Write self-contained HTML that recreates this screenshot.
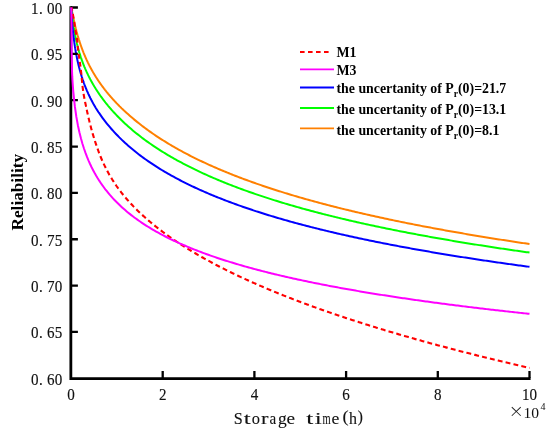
<!DOCTYPE html>
<html><head><meta charset="utf-8"><title>Reliability vs storage time</title><style>
html,body{margin:0;padding:0;background:#fff;width:550px;height:430px;overflow:hidden}
svg{display:block}
.tk{font-family:"Liberation Serif",serif;font-size:16.4px;fill:#111;stroke:#111;stroke-width:0.15px}
.lg{font-family:"Liberation Serif",serif;font-size:13.85px;font-weight:bold;fill:#000}
.ax{font-family:"Liberation Serif",serif;fill:#111}
.tt{font-family:"Liberation Serif",serif;font-size:17.6px;fill:#111;stroke:#111;stroke-width:0.1px}
</style></head><body>
<svg width="550" height="430" viewBox="0 0 550 430">
<rect width="550" height="430" fill="#fff"/>
<path d="M70.85,6.2 V378.6 H530.6" fill="none" stroke="#000" stroke-width="2.8" stroke-linejoin="miter"/>
<polyline points="71.20,7.40 71.28,7.80 71.36,8.21 71.44,8.61 71.52,9.02 71.61,9.42 71.69,9.82 71.77,10.23 71.85,10.63 71.93,11.03 72.01,11.44 72.10,11.84 72.18,12.25 72.26,12.65 72.34,13.05 72.43,13.46 72.51,13.86 72.59,14.27 72.68,14.67 72.76,15.07 72.85,15.48 72.93,15.88 73.02,16.28 73.10,16.69 73.19,17.09 73.27,17.50 73.36,17.90 73.45,18.30 73.53,18.71 73.62,19.11 73.71,19.52 73.80,19.92 73.89,20.32 73.98,20.73 74.07,21.13 74.16,21.54 74.25,21.94 74.34,22.34 74.44,22.75 74.53,23.15 74.62,23.55 74.72,23.96 74.81,24.36 74.91,24.77 75.00,25.17 75.10,25.57 75.20,25.98 75.29,26.38 75.39,26.79 75.49,27.19 75.59,27.59 75.69,28.00 75.79,28.40 75.90,28.80 76.00,29.21 76.10,29.61 76.21,30.02 76.31,30.42 76.42,30.82 76.52,31.23 76.63,31.63 76.74,32.04 76.85,32.44 76.96,32.84 77.07,33.25 77.18,33.65 77.29,34.05 77.40,34.46 77.52,34.86 77.63,35.27 77.75,35.67 77.86,36.07 77.98,36.48 78.10,36.88 78.22,37.29 78.34,37.69 78.46,38.09 78.58,38.50 78.70,38.90 78.83,39.31 78.95,39.71 79.08,40.11 79.21,40.52 79.33,40.92 79.46,41.32 79.59,41.73 79.72,42.13 79.86,42.54 79.99,42.94 80.12,43.34 80.26,43.75 80.39,44.15 80.53,44.56 80.67,44.96 80.81,45.36 80.95,45.77 81.09,46.17 81.24,46.57 81.38,46.98 81.52,47.38 81.67,47.79 81.82,48.19 81.97,48.59 82.12,49.00 82.27,49.40 82.42,49.81 82.57,50.21 82.73,50.61 82.89,51.02 83.04,51.42 83.20,51.82 83.36,52.23 83.52,52.63 83.68,53.04 83.85,53.44 84.01,53.84 84.18,54.25 84.35,54.65 84.52,55.06 84.69,55.46 84.86,55.86 85.03,56.27 85.21,56.67 85.38,57.07 85.56,57.48 85.74,57.88 85.92,58.29 86.10,58.69 86.28,59.09 86.46,59.50 86.65,59.90 86.84,60.31 87.03,60.71 87.22,61.11 87.41,61.52 87.60,61.92 87.79,62.33 87.99,62.73 88.19,63.13 88.39,63.54 88.59,63.94 88.79,64.34 88.99,64.75 89.20,65.15 89.40,65.56 89.61,65.96 89.82,66.36 90.03,66.77 90.24,67.17 90.46,67.58 90.67,67.98 90.89,68.38 91.11,68.79 91.33,69.19 91.55,69.59 91.78,70.00 92.00,70.40 92.23,70.81 92.46,71.21 92.69,71.61 92.92,72.02 93.16,72.42 93.39,72.83 93.63,73.23 93.87,73.63 94.11,74.04 94.35,74.44 94.60,74.84 94.85,75.25 95.09,75.65 95.34,76.06 95.59,76.46 95.85,76.86 96.10,77.27 96.36,77.67 96.62,78.08 96.88,78.48 97.14,78.88 97.41,79.29 97.67,79.69 97.94,80.09 98.21,80.50 98.48,80.90 98.75,81.31 99.03,81.71 99.31,82.11 99.59,82.52 99.87,82.92 100.15,83.33 100.43,83.73 100.72,84.13 101.01,84.54 101.30,84.94 101.59,85.35 101.89,85.75 102.18,86.15 102.48,86.56 102.78,86.96 103.08,87.36 103.39,87.77 103.70,88.17 104.00,88.58 104.31,88.98 104.63,89.38 104.94,89.79 105.26,90.19 105.58,90.60 105.90,91.00 106.22,91.40 106.54,91.81 106.87,92.21 107.20,92.61 107.53,93.02 107.87,93.42 108.20,93.83 108.54,94.23 108.88,94.63 109.22,95.04 109.56,95.44 109.91,95.85 110.26,96.25 110.61,96.65 110.96,97.06 111.31,97.46 111.67,97.86 112.03,98.27 112.39,98.67 112.76,99.08 113.12,99.48 113.49,99.88 113.86,100.29 114.23,100.69 114.61,101.10 114.98,101.50 115.36,101.90 115.74,102.31 116.13,102.71 116.51,103.12 116.90,103.52 117.29,103.92 117.69,104.33 118.08,104.73 118.48,105.13 118.88,105.54 119.28,105.94 119.68,106.35 120.09,106.75 120.50,107.15 120.91,107.56 121.33,107.96 121.74,108.37 122.16,108.77 122.58,109.17 123.01,109.58 123.43,109.98 123.86,110.38 124.29,110.79 124.73,111.19 125.16,111.60 125.60,112.00 126.69,112.98 128.22,114.36 129.75,115.71 131.27,117.04 132.80,118.34 134.32,119.62 135.85,120.88 137.38,122.12 138.90,123.34 140.43,124.54 141.95,125.72 143.48,126.88 145.00,128.02 146.53,129.15 148.06,130.25 149.58,131.35 151.11,132.42 152.63,133.48 154.16,134.53 155.68,135.56 157.21,136.58 158.74,137.58 160.26,138.57 161.79,139.55 163.31,140.51 164.84,141.46 166.36,142.40 167.89,143.33 169.42,144.25 170.94,145.16 172.47,146.05 173.99,146.93 175.52,147.81 177.05,148.67 178.57,149.52 180.10,150.37 181.62,151.20 183.15,152.03 184.67,152.84 186.20,153.65 187.73,154.45 189.25,155.24 190.78,156.02 192.30,156.79 193.83,157.56 195.35,158.32 196.88,159.07 198.41,159.81 199.93,160.55 201.46,161.27 202.98,161.99 204.51,162.71 206.04,163.41 207.56,164.12 209.09,164.81 210.61,165.50 212.14,166.18 213.66,166.85 215.19,167.52 216.72,168.18 218.24,168.84 219.77,169.49 221.29,170.14 222.82,170.77 224.34,171.41 225.87,172.04 227.40,172.66 228.92,173.28 230.45,173.89 231.97,174.50 233.50,175.10 235.02,175.70 236.55,176.29 238.08,176.88 239.60,177.46 241.13,178.04 242.65,178.62 244.18,179.19 245.71,179.75 247.23,180.31 248.76,180.87 250.28,181.42 251.81,181.97 253.33,182.51 254.86,183.05 256.39,183.59 257.91,184.12 259.44,184.65 260.96,185.18 262.49,185.70 264.01,186.21 265.54,186.73 267.07,187.24 268.59,187.74 270.12,188.25 271.64,188.75 273.17,189.24 274.70,189.73 276.22,190.22 277.75,190.71 279.27,191.19 280.80,191.67 282.32,192.15 283.85,192.62 285.38,193.09 286.90,193.56 288.43,194.02 289.95,194.48 291.48,194.94 293.00,195.39 294.53,195.85 296.06,196.30 297.58,196.74 299.11,197.19 300.63,197.63 302.16,198.07 303.68,198.50 305.21,198.93 306.74,199.36 308.26,199.79 309.79,200.22 311.31,200.64 312.84,201.06 314.37,201.48 315.89,201.89 317.42,202.31 318.94,202.72 320.47,203.12 321.99,203.53 323.52,203.93 325.05,204.33 326.57,204.73 328.10,205.13 329.62,205.52 331.15,205.92 332.67,206.31 334.20,206.70 335.73,207.08 337.25,207.46 338.78,207.85 340.30,208.23 341.83,208.60 343.36,208.98 344.88,209.35 346.41,209.72 347.93,210.09 349.46,210.46 350.98,210.83 352.51,211.19 354.04,211.55 355.56,211.91 357.09,212.27 358.61,212.63 360.14,212.98 361.66,213.34 363.19,213.69 364.72,214.04 366.24,214.38 367.77,214.73 369.29,215.07 370.82,215.42 372.34,215.76 373.87,216.10 375.40,216.43 376.92,216.77 378.45,217.10 379.97,217.44 381.50,217.77 383.03,218.10 384.55,218.42 386.08,218.75 387.60,219.08 389.13,219.40 390.65,219.72 392.18,220.04 393.71,220.36 395.23,220.68 396.76,220.99 398.28,221.31 399.81,221.62 401.33,221.93 402.86,222.24 404.39,222.55 405.91,222.86 407.44,223.16 408.96,223.47 410.49,223.77 412.02,224.08 413.54,224.38 415.07,224.68 416.59,224.97 418.12,225.27 419.64,225.57 421.17,225.86 422.70,226.15 424.22,226.44 425.75,226.74 427.27,227.02 428.80,227.31 430.32,227.60 431.85,227.89 433.38,228.17 434.90,228.45 436.43,228.74 437.95,229.02 439.48,229.30 441.00,229.57 442.53,229.85 444.06,230.13 445.58,230.40 447.11,230.68 448.63,230.95 450.16,231.22 451.69,231.49 453.21,231.76 454.74,232.03 456.26,232.30 457.79,232.57 459.31,232.83 460.84,233.10 462.37,233.36 463.89,233.62 465.42,233.88 466.94,234.15 468.47,234.40 469.99,234.66 471.52,234.92 473.05,235.18 474.57,235.43 476.10,235.69 477.62,235.94 479.15,236.19 480.68,236.45 482.20,236.70 483.73,236.95 485.25,237.19 486.78,237.44 488.30,237.69 489.83,237.94 491.36,238.18 492.88,238.43 494.41,238.67 495.93,238.91 497.46,239.15 498.98,239.39 500.51,239.63 502.04,239.87 503.56,240.11 505.09,240.35 506.61,240.59 508.14,240.82 509.66,241.06 511.19,241.29 512.72,241.52 514.24,241.76 515.77,241.99 517.29,242.22 518.82,242.45 520.35,242.68 521.87,242.91 523.40,243.13 524.92,243.36 526.45,243.59 527.97,243.81 529.50,244.04" fill="none" stroke="#ff8000" stroke-width="2.0" stroke-linejoin="round"/>
<polyline points="71.20,7.40 71.24,7.80 71.29,8.21 71.33,8.61 71.38,9.02 71.43,9.42 71.47,9.82 71.52,10.23 71.56,10.63 71.61,11.03 71.65,11.44 71.70,11.84 71.75,12.25 71.79,12.65 71.84,13.05 71.89,13.46 71.93,13.86 71.98,14.27 72.03,14.67 72.08,15.07 72.13,15.48 72.18,15.88 72.23,16.28 72.28,16.69 72.33,17.09 72.38,17.50 72.43,17.90 72.48,18.30 72.53,18.71 72.58,19.11 72.63,19.52 72.69,19.92 72.74,20.32 72.80,20.73 72.85,21.13 72.91,21.54 72.96,21.94 73.02,22.34 73.07,22.75 73.13,23.15 73.19,23.55 73.25,23.96 73.31,24.36 73.37,24.77 73.43,25.17 73.49,25.57 73.55,25.98 73.61,26.38 73.67,26.79 73.73,27.19 73.80,27.59 73.86,28.00 73.93,28.40 73.99,28.80 74.06,29.21 74.13,29.61 74.20,30.02 74.26,30.42 74.33,30.82 74.40,31.23 74.47,31.63 74.55,32.04 74.62,32.44 74.69,32.84 74.76,33.25 74.84,33.65 74.91,34.05 74.99,34.46 75.07,34.86 75.15,35.27 75.22,35.67 75.30,36.07 75.38,36.48 75.47,36.88 75.55,37.29 75.63,37.69 75.71,38.09 75.80,38.50 75.88,38.90 75.97,39.31 76.06,39.71 76.15,40.11 76.24,40.52 76.33,40.92 76.42,41.32 76.51,41.73 76.60,42.13 76.70,42.54 76.79,42.94 76.89,43.34 76.98,43.75 77.08,44.15 77.18,44.56 77.28,44.96 77.38,45.36 77.48,45.77 77.59,46.17 77.69,46.57 77.80,46.98 77.90,47.38 78.01,47.79 78.12,48.19 78.23,48.59 78.34,49.00 78.45,49.40 78.56,49.81 78.68,50.21 78.79,50.61 78.91,51.02 79.02,51.42 79.14,51.82 79.26,52.23 79.38,52.63 79.50,53.04 79.63,53.44 79.75,53.84 79.88,54.25 80.00,54.65 80.13,55.06 80.26,55.46 80.39,55.86 80.52,56.27 80.66,56.67 80.79,57.07 80.92,57.48 81.06,57.88 81.20,58.29 81.34,58.69 81.48,59.09 81.62,59.50 81.76,59.90 81.91,60.31 82.05,60.71 82.20,61.11 82.35,61.52 82.50,61.92 82.65,62.33 82.80,62.73 82.95,63.13 83.11,63.54 83.26,63.94 83.42,64.34 83.58,64.75 83.74,65.15 83.90,65.56 84.06,65.96 84.23,66.36 84.39,66.77 84.56,67.17 84.73,67.58 84.90,67.98 85.07,68.38 85.24,68.79 85.42,69.19 85.60,69.59 85.77,70.00 85.95,70.40 86.13,70.81 86.31,71.21 86.50,71.61 86.68,72.02 86.87,72.42 87.06,72.83 87.25,73.23 87.44,73.63 87.63,74.04 87.82,74.44 88.02,74.84 88.21,75.25 88.41,75.65 88.61,76.06 88.82,76.46 89.02,76.86 89.22,77.27 89.43,77.67 89.64,78.08 89.85,78.48 90.06,78.88 90.27,79.29 90.49,79.69 90.70,80.09 90.92,80.50 91.14,80.90 91.36,81.31 91.58,81.71 91.81,82.11 92.04,82.52 92.26,82.92 92.49,83.33 92.72,83.73 92.96,84.13 93.19,84.54 93.43,84.94 93.67,85.35 93.91,85.75 94.15,86.15 94.39,86.56 94.64,86.96 94.88,87.36 95.13,87.77 95.38,88.17 95.63,88.58 95.89,88.98 96.14,89.38 96.40,89.79 96.66,90.19 96.92,90.60 97.18,91.00 97.45,91.40 97.72,91.81 97.98,92.21 98.25,92.61 98.53,93.02 98.80,93.42 99.08,93.83 99.35,94.23 99.63,94.63 99.91,95.04 100.20,95.44 100.48,95.85 100.77,96.25 101.06,96.65 101.35,97.06 101.64,97.46 101.94,97.86 102.24,98.27 102.53,98.67 102.84,99.08 103.14,99.48 103.44,99.88 103.75,100.29 104.06,100.69 104.37,101.10 104.68,101.50 105.00,101.90 105.31,102.31 105.63,102.71 105.95,103.12 106.28,103.52 106.60,103.92 106.93,104.33 107.26,104.73 107.59,105.13 107.92,105.54 108.26,105.94 108.59,106.35 108.93,106.75 109.28,107.15 109.62,107.56 109.96,107.96 110.31,108.37 110.66,108.77 111.02,109.17 111.37,109.58 111.73,109.98 112.09,110.38 112.45,110.79 112.81,111.19 113.17,111.60 113.54,112.00 114.49,113.02 116.01,114.65 117.54,116.24 119.07,117.79 120.59,119.31 122.12,120.80 123.64,122.25 125.17,123.68 126.69,125.07 128.22,126.44 129.75,127.78 131.27,129.10 132.80,130.39 134.32,131.66 135.85,132.91 137.38,134.13 138.90,135.34 140.43,136.52 141.95,137.69 143.48,138.83 145.00,139.96 146.53,141.07 148.06,142.16 149.58,143.24 151.11,144.30 152.63,145.34 154.16,146.37 155.68,147.39 157.21,148.39 158.74,149.37 160.26,150.35 161.79,151.31 163.31,152.25 164.84,153.19 166.36,154.11 167.89,155.02 169.42,155.92 170.94,156.81 172.47,157.69 173.99,158.56 175.52,159.41 177.05,160.26 178.57,161.10 180.10,161.92 181.62,162.74 183.15,163.55 184.67,164.35 186.20,165.14 187.73,165.92 189.25,166.69 190.78,167.46 192.30,168.22 193.83,168.96 195.35,169.71 196.88,170.44 198.41,171.17 199.93,171.88 201.46,172.60 202.98,173.30 204.51,174.00 206.04,174.69 207.56,175.37 209.09,176.05 210.61,176.72 212.14,177.39 213.66,178.05 215.19,178.70 216.72,179.34 218.24,179.99 219.77,180.62 221.29,181.25 222.82,181.87 224.34,182.49 225.87,183.11 227.40,183.71 228.92,184.32 230.45,184.91 231.97,185.51 233.50,186.09 235.02,186.68 236.55,187.25 238.08,187.83 239.60,188.39 241.13,188.96 242.65,189.52 244.18,190.07 245.71,190.62 247.23,191.17 248.76,191.71 250.28,192.25 251.81,192.78 253.33,193.31 254.86,193.84 256.39,194.36 257.91,194.88 259.44,195.39 260.96,195.90 262.49,196.41 264.01,196.91 265.54,197.41 267.07,197.91 268.59,198.40 270.12,198.89 271.64,199.37 273.17,199.85 274.70,200.33 276.22,200.81 277.75,201.28 279.27,201.75 280.80,202.21 282.32,202.68 283.85,203.14 285.38,203.59 286.90,204.04 288.43,204.49 289.95,204.94 291.48,205.39 293.00,205.83 294.53,206.27 296.06,206.70 297.58,207.14 299.11,207.57 300.63,207.99 302.16,208.42 303.68,208.84 305.21,209.26 306.74,209.68 308.26,210.09 309.79,210.50 311.31,210.91 312.84,211.32 314.37,211.72 315.89,212.13 317.42,212.53 318.94,212.92 320.47,213.32 321.99,213.71 323.52,214.10 325.05,214.49 326.57,214.88 328.10,215.26 329.62,215.64 331.15,216.02 332.67,216.40 334.20,216.77 335.73,217.15 337.25,217.52 338.78,217.89 340.30,218.25 341.83,218.62 343.36,218.98 344.88,219.34 346.41,219.70 347.93,220.06 349.46,220.41 350.98,220.77 352.51,221.12 354.04,221.47 355.56,221.81 357.09,222.16 358.61,222.50 360.14,222.85 361.66,223.19 363.19,223.52 364.72,223.86 366.24,224.20 367.77,224.53 369.29,224.86 370.82,225.19 372.34,225.52 373.87,225.85 375.40,226.17 376.92,226.50 378.45,226.82 379.97,227.14 381.50,227.46 383.03,227.77 384.55,228.09 386.08,228.40 387.60,228.72 389.13,229.03 390.65,229.34 392.18,229.64 393.71,229.95 395.23,230.26 396.76,230.56 398.28,230.86 399.81,231.16 401.33,231.46 402.86,231.76 404.39,232.06 405.91,232.35 407.44,232.65 408.96,232.94 410.49,233.23 412.02,233.52 413.54,233.81 415.07,234.10 416.59,234.38 418.12,234.67 419.64,234.95 421.17,235.23 422.70,235.52 424.22,235.79 425.75,236.07 427.27,236.35 428.80,236.63 430.32,236.90 431.85,237.18 433.38,237.45 434.90,237.72 436.43,237.99 437.95,238.26 439.48,238.53 441.00,238.79 442.53,239.06 444.06,239.32 445.58,239.59 447.11,239.85 448.63,240.11 450.16,240.37 451.69,240.63 453.21,240.89 454.74,241.14 456.26,241.40 457.79,241.66 459.31,241.91 460.84,242.16 462.37,242.41 463.89,242.66 465.42,242.91 466.94,243.16 468.47,243.41 469.99,243.66 471.52,243.90 473.05,244.15 474.57,244.39 476.10,244.63 477.62,244.88 479.15,245.12 480.68,245.36 482.20,245.60 483.73,245.83 485.25,246.07 486.78,246.31 488.30,246.54 489.83,246.78 491.36,247.01 492.88,247.24 494.41,247.48 495.93,247.71 497.46,247.94 498.98,248.17 500.51,248.39 502.04,248.62 503.56,248.85 505.09,249.07 506.61,249.30 508.14,249.52 509.66,249.75 511.19,249.97 512.72,250.19 514.24,250.41 515.77,250.63 517.29,250.85 518.82,251.07 520.35,251.29 521.87,251.50 523.40,251.72 524.92,251.94 526.45,252.15 527.97,252.36 529.50,252.58" fill="none" stroke="#00ff00" stroke-width="2.0" stroke-linejoin="round"/>
<polyline points="71.20,7.40 71.22,7.80 71.24,8.21 71.26,8.61 71.28,9.02 71.30,9.42 71.32,9.82 71.34,10.23 71.36,10.63 71.39,11.03 71.41,11.44 71.43,11.84 71.45,12.25 71.48,12.65 71.50,13.05 71.53,13.46 71.55,13.86 71.58,14.27 71.60,14.67 71.63,15.07 71.65,15.48 71.68,15.88 71.71,16.28 71.73,16.69 71.76,17.09 71.79,17.50 71.82,17.90 71.84,18.30 71.87,18.71 71.90,19.11 71.93,19.52 71.96,19.92 71.99,20.32 72.02,20.73 72.05,21.13 72.09,21.54 72.12,21.94 72.15,22.34 72.18,22.75 72.22,23.15 72.25,23.55 72.28,23.96 72.32,24.36 72.35,24.77 72.39,25.17 72.42,25.57 72.46,25.98 72.50,26.38 72.53,26.79 72.57,27.19 72.61,27.59 72.64,28.00 72.68,28.40 72.72,28.80 72.76,29.21 72.80,29.61 72.84,30.02 72.88,30.42 72.92,30.82 72.96,31.23 73.01,31.63 73.05,32.04 73.09,32.44 73.14,32.84 73.18,33.25 73.22,33.65 73.27,34.05 73.31,34.46 73.36,34.86 73.41,35.27 73.45,35.67 73.50,36.07 73.55,36.48 73.60,36.88 73.64,37.29 73.69,37.69 73.74,38.09 73.79,38.50 73.85,38.90 73.90,39.31 73.95,39.71 74.00,40.11 74.05,40.52 74.11,40.92 74.16,41.32 74.22,41.73 74.27,42.13 74.33,42.54 74.38,42.94 74.44,43.34 74.50,43.75 74.56,44.15 74.62,44.56 74.68,44.96 74.74,45.36 74.80,45.77 74.86,46.17 74.92,46.57 74.98,46.98 75.05,47.38 75.11,47.79 75.17,48.19 75.24,48.59 75.31,49.00 75.37,49.40 75.44,49.81 75.51,50.21 75.58,50.61 75.64,51.02 75.71,51.42 75.79,51.82 75.86,52.23 75.93,52.63 76.00,53.04 76.07,53.44 76.15,53.84 76.22,54.25 76.30,54.65 76.38,55.06 76.45,55.46 76.53,55.86 76.61,56.27 76.69,56.67 76.77,57.07 76.85,57.48 76.93,57.88 77.02,58.29 77.10,58.69 77.18,59.09 77.27,59.50 77.35,59.90 77.44,60.31 77.53,60.71 77.62,61.11 77.71,61.52 77.80,61.92 77.89,62.33 77.98,62.73 78.07,63.13 78.17,63.54 78.26,63.94 78.36,64.34 78.45,64.75 78.55,65.15 78.65,65.56 78.75,65.96 78.85,66.36 78.95,66.77 79.05,67.17 79.15,67.58 79.26,67.98 79.36,68.38 79.47,68.79 79.58,69.19 79.69,69.59 79.79,70.00 79.90,70.40 80.02,70.81 80.13,71.21 80.24,71.61 80.35,72.02 80.47,72.42 80.59,72.83 80.70,73.23 80.82,73.63 80.94,74.04 81.06,74.44 81.18,74.84 81.31,75.25 81.43,75.65 81.56,76.06 81.68,76.46 81.81,76.86 81.94,77.27 82.07,77.67 82.20,78.08 82.33,78.48 82.47,78.88 82.60,79.29 82.74,79.69 82.87,80.09 83.01,80.50 83.15,80.90 83.29,81.31 83.43,81.71 83.58,82.11 83.72,82.52 83.87,82.92 84.01,83.33 84.16,83.73 84.31,84.13 84.46,84.54 84.62,84.94 84.77,85.35 84.92,85.75 85.08,86.15 85.24,86.56 85.40,86.96 85.56,87.36 85.72,87.77 85.88,88.17 86.05,88.58 86.21,88.98 86.38,89.38 86.55,89.79 86.72,90.19 86.89,90.60 87.07,91.00 87.24,91.40 87.42,91.81 87.60,92.21 87.78,92.61 87.96,93.02 88.14,93.42 88.32,93.83 88.51,94.23 88.70,94.63 88.88,95.04 89.08,95.44 89.27,95.85 89.46,96.25 89.66,96.65 89.85,97.06 90.05,97.46 90.25,97.86 90.45,98.27 90.66,98.67 90.86,99.08 91.07,99.48 91.28,99.88 91.49,100.29 91.70,100.69 91.91,101.10 92.13,101.50 92.34,101.90 92.56,102.31 92.78,102.71 93.01,103.12 93.23,103.52 93.46,103.92 93.68,104.33 93.91,104.73 94.15,105.13 94.38,105.54 94.61,105.94 94.85,106.35 95.09,106.75 95.33,107.15 95.57,107.56 95.82,107.96 96.06,108.37 96.31,108.77 96.56,109.17 96.82,109.58 97.07,109.98 97.33,110.38 97.59,110.79 97.85,111.19 98.11,111.60 98.37,112.00 99.23,113.20 100.76,115.41 102.28,117.55 103.81,119.61 105.33,121.60 106.86,123.53 108.39,125.40 109.91,127.21 111.44,128.98 112.96,130.69 114.49,132.36 116.01,133.99 117.54,135.57 119.07,137.12 120.59,138.63 122.12,140.10 123.64,141.54 125.17,142.95 126.69,144.33 128.22,145.68 129.75,147.01 131.27,148.30 132.80,149.57 134.32,150.82 135.85,152.05 137.38,153.25 138.90,154.43 140.43,155.58 141.95,156.72 143.48,157.84 145.00,158.94 146.53,160.03 148.06,161.09 149.58,162.14 151.11,163.17 152.63,164.19 154.16,165.19 155.68,166.17 157.21,167.15 158.74,168.10 160.26,169.05 161.79,169.98 163.31,170.90 164.84,171.80 166.36,172.69 167.89,173.58 169.42,174.45 170.94,175.30 172.47,176.15 173.99,176.99 175.52,177.82 177.05,178.63 178.57,179.44 180.10,180.24 181.62,181.02 183.15,181.80 184.67,182.57 186.20,183.33 187.73,184.09 189.25,184.83 190.78,185.57 192.30,186.29 193.83,187.01 195.35,187.73 196.88,188.43 198.41,189.13 199.93,189.82 201.46,190.50 202.98,191.18 204.51,191.85 206.04,192.51 207.56,193.16 209.09,193.81 210.61,194.46 212.14,195.09 213.66,195.73 215.19,196.35 216.72,196.97 218.24,197.58 219.77,198.19 221.29,198.80 222.82,199.39 224.34,199.98 225.87,200.57 227.40,201.15 228.92,201.73 230.45,202.30 231.97,202.87 233.50,203.43 235.02,203.99 236.55,204.54 238.08,205.09 239.60,205.63 241.13,206.17 242.65,206.70 244.18,207.23 245.71,207.76 247.23,208.28 248.76,208.80 250.28,209.31 251.81,209.82 253.33,210.33 254.86,210.83 256.39,211.33 257.91,211.82 259.44,212.31 260.96,212.80 262.49,213.28 264.01,213.76 265.54,214.24 267.07,214.71 268.59,215.18 270.12,215.65 271.64,216.11 273.17,216.57 274.70,217.03 276.22,217.48 277.75,217.93 279.27,218.38 280.80,218.82 282.32,219.26 283.85,219.70 285.38,220.13 286.90,220.57 288.43,221.00 289.95,221.42 291.48,221.85 293.00,222.27 294.53,222.68 296.06,223.10 297.58,223.51 299.11,223.92 300.63,224.33 302.16,224.74 303.68,225.14 305.21,225.54 306.74,225.93 308.26,226.33 309.79,226.72 311.31,227.11 312.84,227.50 314.37,227.89 315.89,228.27 317.42,228.65 318.94,229.03 320.47,229.41 321.99,229.78 323.52,230.15 325.05,230.52 326.57,230.89 328.10,231.25 329.62,231.62 331.15,231.98 332.67,232.34 334.20,232.70 335.73,233.05 337.25,233.41 338.78,233.76 340.30,234.11 341.83,234.45 343.36,234.80 344.88,235.14 346.41,235.49 347.93,235.83 349.46,236.16 350.98,236.50 352.51,236.83 354.04,237.17 355.56,237.50 357.09,237.83 358.61,238.16 360.14,238.48 361.66,238.81 363.19,239.13 364.72,239.45 366.24,239.77 367.77,240.09 369.29,240.40 370.82,240.72 372.34,241.03 373.87,241.34 375.40,241.65 376.92,241.96 378.45,242.27 379.97,242.57 381.50,242.87 383.03,243.18 384.55,243.48 386.08,243.78 387.60,244.07 389.13,244.37 390.65,244.67 392.18,244.96 393.71,245.25 395.23,245.54 396.76,245.83 398.28,246.12 399.81,246.41 401.33,246.69 402.86,246.98 404.39,247.26 405.91,247.54 407.44,247.82 408.96,248.10 410.49,248.38 412.02,248.65 413.54,248.93 415.07,249.20 416.59,249.48 418.12,249.75 419.64,250.02 421.17,250.29 422.70,250.55 424.22,250.82 425.75,251.09 427.27,251.35 428.80,251.61 430.32,251.88 431.85,252.14 433.38,252.40 434.90,252.66 436.43,252.91 437.95,253.17 439.48,253.42 441.00,253.68 442.53,253.93 444.06,254.18 445.58,254.44 447.11,254.69 448.63,254.93 450.16,255.18 451.69,255.43 453.21,255.68 454.74,255.92 456.26,256.16 457.79,256.41 459.31,256.65 460.84,256.89 462.37,257.13 463.89,257.37 465.42,257.61 466.94,257.85 468.47,258.08 469.99,258.32 471.52,258.55 473.05,258.78 474.57,259.02 476.10,259.25 477.62,259.48 479.15,259.71 480.68,259.94 482.20,260.17 483.73,260.39 485.25,260.62 486.78,260.84 488.30,261.07 489.83,261.29 491.36,261.52 492.88,261.74 494.41,261.96 495.93,262.18 497.46,262.40 498.98,262.62 500.51,262.84 502.04,263.05 503.56,263.27 505.09,263.48 506.61,263.70 508.14,263.91 509.66,264.13 511.19,264.34 512.72,264.55 514.24,264.76 515.77,264.97 517.29,265.18 518.82,265.39 520.35,265.60 521.87,265.80 523.40,266.01 524.92,266.21 526.45,266.42 527.97,266.62 529.50,266.83" fill="none" stroke="#0000ff" stroke-width="2.0" stroke-linejoin="round"/>
<path d="M70.85,7.50 H77.9 M70.85,53.85 H77.9 M70.85,100.20 H77.9 M70.85,146.55 H77.9 M70.85,192.90 H77.9 M70.85,239.25 H77.9 M70.85,285.60 H77.9 M70.85,331.95 H77.9 M162.70,378 V371.1 M254.40,378 V371.1 M346.10,378 V371.1 M437.80,378 V371.1 M529.50,378 V371.1" fill="none" stroke="#000" stroke-width="2.3"/>
<polyline points="71.50,7.40 71.72,8.45 71.94,9.51 72.16,10.56 72.37,11.62 72.58,12.68 72.78,13.73 72.98,14.79 73.17,15.85 73.37,16.91 73.55,17.97 73.74,19.03 73.92,20.09 74.09,21.15 74.25,22.22 74.41,23.28 74.57,24.35 74.72,25.41 74.87,26.48 75.03,27.54 75.18,28.61 75.35,29.67 75.52,30.74 75.70,31.80 75.90,32.86 76.09,33.92 76.29,34.98 76.48,36.04 76.67,37.10 76.84,38.16 77.00,39.22 77.14,40.29 77.26,41.36 77.37,42.43 77.47,43.50 77.56,44.57 77.66,45.65 77.76,46.72 77.88,47.79 78.00,48.86 78.13,49.93 78.26,50.99 78.40,52.06 78.54,53.13 78.69,54.19 78.84,55.26 78.99,56.33 79.15,57.39 79.30,58.46 79.46,59.52 79.62,60.59 79.77,61.65 79.93,62.72 80.08,63.79 80.23,64.85 80.38,65.92 80.52,66.99 80.66,68.05 80.79,69.12 80.92,70.19 81.04,71.26 81.16,72.33 81.27,73.40 81.38,74.47 81.49,75.55 81.59,76.62 81.69,77.69 81.79,78.76 81.89,79.84 81.99,80.91 82.10,81.98 82.20,83.05 82.31,84.12 82.42,85.20 82.54,86.26 82.66,87.33 82.79,88.40 82.93,89.47 83.07,90.53 83.23,91.59 83.39,92.66 83.56,93.72 83.74,94.78 83.92,95.84 84.11,96.90 84.31,97.96 84.51,99.02 84.72,100.07 84.93,101.13 85.15,102.19 85.36,103.24 85.59,104.30 85.81,105.35 86.03,106.41 86.26,107.46 86.48,108.51 86.71,109.57 86.93,110.62 87.16,111.67 87.39,112.72 87.62,113.77 87.86,114.82 88.10,115.88 88.34,116.93 88.58,117.98 88.83,119.02 89.08,120.07 89.33,121.12 89.59,122.17 89.85,123.21 90.12,124.26 90.39,125.30 90.66,126.34 90.93,127.38 91.21,128.42 91.50,129.45 91.79,130.49 92.08,131.52 92.37,132.56 92.67,133.59 92.98,134.62 93.29,135.66 93.60,136.69 93.91,137.72 94.23,138.75 94.56,139.78 94.88,140.81 95.22,141.84 95.55,142.86 95.89,143.88 96.24,144.91 96.58,145.93 96.94,146.95 97.29,147.96 97.66,148.98 98.02,149.99 98.39,151.00 98.77,152.01 99.14,153.01 99.53,154.02 99.92,155.02 100.31,156.01 100.71,157.01 101.12,158.00 101.54,158.99 101.97,159.98 102.40,160.97 102.85,161.95 103.30,162.94 103.75,163.92 104.22,164.89 104.68,165.86 105.16,166.83 105.64,167.80 106.13,168.76 106.62,169.71 107.11,170.67 107.61,171.61 108.13,172.56 108.65,173.50 109.18,174.44 109.72,175.37 110.26,176.30 110.82,177.22 111.38,178.15 111.95,179.06 112.52,179.98 113.10,180.89 113.69,181.79 114.27,182.69 114.87,183.59 115.47,184.48 116.08,185.36 116.69,186.25 117.32,187.12 117.95,188.00 118.59,188.87 119.23,189.73 119.88,190.59 120.53,191.45 121.19,192.30 121.85,193.15 122.52,193.99 123.19,194.83 123.87,195.67 124.56,196.49 125.25,197.32 125.95,198.14 126.66,198.96 127.36,199.77 128.08,200.58 128.79,201.38 129.51,202.18 130.24,202.98 130.97,203.77 131.70,204.55 132.44,205.34 133.19,206.11 133.94,206.89 134.69,207.66 135.45,208.42 136.21,209.18 136.97,209.94 137.74,210.70 138.51,211.45 139.29,212.19 140.07,212.93 140.86,213.67 141.64,214.40 142.44,215.13 143.23,215.86 144.03,216.58 144.83,217.30 145.63,218.02 146.44,218.73 147.25,219.44 148.07,220.14 148.89,220.84 149.71,221.54 150.53,222.23 151.36,222.92 152.19,223.60 153.02,224.29 153.86,224.97 154.69,225.64 155.54,226.31 156.38,226.98 157.23,227.65 158.07,228.31 158.92,228.97 159.78,229.63 160.63,230.28 161.49,230.93 162.36,231.57 163.22,232.22 164.08,232.86 164.95,233.49 165.82,234.13 166.69,234.76 167.57,235.39 168.45,236.01 169.33,236.63 170.21,237.25 171.09,237.87 171.97,238.48 172.86,239.09 173.75,239.70 174.64,240.30 175.53,240.90 176.43,241.50 177.32,242.10 178.22,242.69 179.12,243.28 180.02,243.87 180.93,244.46 181.83,245.04 182.74,245.62 183.65,246.20 184.56,246.78 185.47,247.35 186.38,247.92 187.30,248.49 188.21,249.05 189.13,249.62 190.05,250.18 190.97,250.73 191.89,251.29 192.81,251.84 193.74,252.40 194.67,252.94 195.59,253.49 196.52,254.03 197.45,254.58 198.38,255.12 199.32,255.65 200.25,256.19 201.19,256.72 202.12,257.25 203.06,257.78 204.00,258.31 204.94,258.83 205.88,259.36 206.82,259.88 207.77,260.39 208.71,260.91 209.66,261.43 210.60,261.94 211.55,262.45 212.50,262.96 213.45,263.46 214.40,263.97 215.35,264.47 216.31,264.97 217.26,265.47 218.22,265.96 219.17,266.46 220.13,266.95 221.09,267.44 222.05,267.93 223.01,268.42 223.97,268.91 224.93,269.39 225.89,269.87 226.85,270.35 227.82,270.83 228.78,271.31 229.75,271.78 230.72,272.26 231.69,272.73 232.65,273.20 233.62,273.67 234.59,274.13 235.56,274.60 236.54,275.06 237.51,275.52 238.48,275.98 239.46,276.44 240.43,276.90 241.41,277.35 242.38,277.81 243.36,278.26 244.34,278.71 245.31,279.16 246.29,279.61 247.27,280.06 248.25,280.50 249.23,280.94 250.22,281.38 251.20,281.83 252.18,282.26 253.17,282.70 254.15,283.14 255.14,283.57 256.12,284.01 257.11,284.44 258.09,284.87 259.08,285.30 260.07,285.72 261.06,286.15 262.05,286.58 263.04,287.00 264.03,287.42 265.02,287.84 266.01,288.26 267.00,288.68 267.99,289.10 268.99,289.51 269.98,289.93 270.97,290.34 271.97,290.75 272.96,291.16 273.96,291.57 274.96,291.98 275.95,292.39 276.95,292.79 277.95,293.20 278.95,293.60 279.94,294.00 280.94,294.40 281.94,294.80 282.94,295.20 283.94,295.60 284.95,295.99 285.95,296.39 286.95,296.78 287.95,297.18 288.95,297.57 289.96,297.96 290.96,298.35 291.97,298.73 292.97,299.12 293.97,299.51 294.98,299.89 295.99,300.28 296.99,300.66 298.00,301.04 299.01,301.42 300.01,301.80 301.02,302.18 302.03,302.56 303.04,302.93 304.05,303.31 305.06,303.68 306.07,304.06 307.08,304.43 308.09,304.80 309.10,305.17 310.11,305.54 311.12,305.91 312.13,306.28 313.14,306.64 314.16,307.01 315.17,307.37 316.18,307.73 317.20,308.10 318.21,308.46 319.23,308.82 320.24,309.18 321.26,309.54 322.27,309.90 323.29,310.25 324.30,310.61 325.32,310.96 326.34,311.32 327.35,311.67 328.37,312.02 329.39,312.38 330.40,312.73 331.42,313.08 332.44,313.42 333.46,313.77 334.48,314.12 335.50,314.47 336.52,314.81 337.54,315.16 338.56,315.50 339.58,315.84 340.60,316.18 341.62,316.53 342.64,316.87 343.66,317.21 344.69,317.54 345.71,317.88 346.73,318.22 347.75,318.56 348.78,318.89 349.80,319.23 350.82,319.56 351.85,319.89 352.87,320.22 353.89,320.56 354.92,320.89 355.94,321.22 356.97,321.55 357.99,321.87 359.02,322.20 360.05,322.53 361.07,322.86 362.10,323.18 363.12,323.51 364.15,323.83 365.18,324.15 366.20,324.48 367.23,324.80 368.26,325.12 369.29,325.44 370.32,325.76 371.34,326.08 372.37,326.39 373.40,326.71 374.43,327.03 375.46,327.35 376.49,327.66 377.52,327.98 378.55,328.29 379.58,328.60 380.61,328.92 381.64,329.23 382.67,329.54 383.70,329.85 384.73,330.16 385.76,330.47 386.79,330.78 387.82,331.08 388.86,331.39 389.89,331.70 390.92,332.00 391.95,332.31 392.99,332.61 394.02,332.92 395.05,333.22 396.08,333.52 397.12,333.83 398.15,334.13 399.18,334.43 400.22,334.73 401.25,335.03 402.29,335.33 403.32,335.63 404.36,335.92 405.39,336.22 406.42,336.52 407.46,336.81 408.50,337.11 409.53,337.40 410.57,337.70 411.60,337.99 412.64,338.28 413.67,338.58 414.71,338.87 415.75,339.16 416.78,339.45 417.82,339.74 418.86,340.03 419.89,340.32 420.93,340.61 421.97,340.90 423.01,341.18 424.04,341.47 425.08,341.76 426.12,342.04 427.16,342.33 428.20,342.61 429.23,342.89 430.27,343.18 431.31,343.46 432.35,343.74 433.39,344.03 434.43,344.31 435.47,344.59 436.51,344.87 437.55,345.15 438.59,345.43 439.63,345.70 440.67,345.98 441.71,346.26 442.75,346.54 443.79,346.81 444.83,347.09 445.87,347.37 446.91,347.64 447.95,347.91 448.99,348.19 450.03,348.46 451.07,348.74 452.12,349.01 453.16,349.28 454.20,349.55 455.24,349.82 456.28,350.09 457.33,350.36 458.37,350.63 459.41,350.90 460.45,351.17 461.50,351.44 462.54,351.71 463.58,351.97 464.62,352.24 465.67,352.51 466.71,352.77 467.75,353.04 468.80,353.30 469.84,353.57 470.88,353.83 471.93,354.09 472.97,354.36 474.02,354.62 475.06,354.88 476.10,355.14 477.15,355.40 478.19,355.66 479.24,355.92 480.28,356.18 481.33,356.44 482.37,356.70 483.42,356.96 484.46,357.22 485.51,357.48 486.55,357.73 487.60,357.99 488.64,358.25 489.69,358.50 490.74,358.76 491.78,359.01 492.83,359.27 493.87,359.52 494.92,359.78 495.97,360.03 497.01,360.28 498.06,360.53 499.11,360.79 500.15,361.04 501.20,361.29 502.25,361.54 503.29,361.79 504.34,362.04 505.39,362.29 506.44,362.54 507.48,362.79 508.53,363.04 509.58,363.28 510.63,363.53 511.67,363.78 512.72,364.03 513.77,364.27 514.82,364.52 515.87,364.76 516.91,365.01 517.96,365.25 519.01,365.50 520.06,365.74 521.11,365.99 522.16,366.23 523.21,366.47 524.25,366.71 525.30,366.96 526.35,367.20 527.40,367.44 528.45,367.68 529.50,367.92" fill="none" stroke="#ff0000" stroke-width="2.1" stroke-dasharray="4.9 3.175" stroke-dashoffset="1.4"/>
<polyline points="71.30,7.50 71.30,7.88 71.31,8.26 71.31,8.64 71.31,9.02 71.32,9.40 71.32,9.78 71.32,10.16 71.33,10.54 71.33,10.91 71.33,11.29 71.33,11.67 71.34,12.05 71.34,12.43 71.34,12.81 71.34,13.19 71.35,13.57 71.35,13.95 71.35,14.33 71.35,14.71 71.36,15.09 71.36,15.47 71.36,15.85 71.36,16.23 71.37,16.61 71.37,16.98 71.37,17.36 71.37,17.74 71.38,18.12 71.38,18.50 71.38,18.88 71.38,19.26 71.39,19.64 71.39,20.02 71.39,20.40 71.39,20.78 71.40,21.16 71.40,21.54 71.40,21.92 71.40,22.30 71.40,22.68 71.41,23.06 71.41,23.43 71.41,23.81 71.41,24.19 71.42,24.57 71.42,24.95 71.42,25.33 71.42,25.71 71.43,26.09 71.43,26.47 71.43,26.85 71.43,27.23 71.44,27.61 71.44,27.99 71.44,28.37 71.44,28.75 71.44,29.13 71.45,29.51 71.45,29.88 71.45,30.26 71.45,30.64 71.46,31.02 71.46,31.40 71.46,31.78 71.46,32.16 71.47,32.54 71.47,32.92 71.47,33.30 71.47,33.68 71.48,34.06 71.48,34.44 71.48,34.82 71.48,35.20 71.49,35.58 71.49,35.95 71.49,36.33 71.50,36.71 71.50,37.09 71.50,37.47 71.51,37.85 71.51,38.23 71.51,38.61 71.51,38.99 71.52,39.37 71.52,39.75 71.53,40.13 71.53,40.51 71.53,40.89 71.54,41.27 71.54,41.65 71.54,42.03 71.55,42.40 71.55,42.78 71.56,43.16 71.56,43.54 71.56,43.92 71.57,44.30 71.57,44.68 71.58,45.06 71.58,45.44 71.59,45.82 71.59,46.20 71.60,46.58 71.60,46.96 71.61,47.34 71.61,47.72 71.62,48.10 71.63,48.47 71.63,48.85 71.64,49.23 71.64,49.61 71.65,49.99 71.66,50.37 71.66,50.75 71.67,51.13 71.68,51.51 71.68,51.89 71.69,52.27 71.70,52.65 71.70,53.03 71.71,53.41 71.72,53.79 71.73,54.17 71.73,54.55 71.74,54.92 71.75,55.30 71.76,55.68 71.76,56.06 71.77,56.44 71.78,56.82 71.79,57.20 71.80,57.58 71.81,57.96 71.81,58.34 71.82,58.72 71.83,59.10 71.84,59.48 71.85,59.86 71.86,60.24 71.87,60.62 71.88,60.99 71.89,61.37 71.89,61.75 71.90,62.13 71.91,62.51 71.92,62.89 71.93,63.27 71.93,63.65 71.94,64.03 71.94,64.41 71.95,64.79 71.95,65.17 71.96,65.55 71.96,65.93 71.97,66.31 71.97,66.69 71.97,67.07 71.98,67.44 71.98,67.82 71.99,68.20 71.99,68.58 71.99,68.96 72.00,69.34 72.01,69.72 72.01,70.10 72.02,70.48 72.03,70.86 72.04,71.24 72.04,71.62 72.05,72.00 72.06,72.38 72.08,72.76 72.09,73.14 72.10,73.52 72.12,73.89 72.14,74.27 72.15,74.65 72.17,75.03 72.19,75.41 72.21,75.79 72.23,76.17 72.25,76.55 72.27,76.93 72.30,77.31 72.32,77.69 72.34,78.07 72.36,78.45 72.38,78.83 72.40,79.21 72.43,79.59 72.45,79.96 72.47,80.34 72.50,80.72 72.52,81.10 72.55,81.48 72.57,81.86 72.60,82.24 72.62,82.62 72.64,83.00 72.67,83.36 72.95,87.37 73.29,91.56 74.82,106.14 76.34,116.75 77.87,125.19 79.40,132.26 80.92,138.35 82.45,143.72 83.97,148.54 85.50,152.90 87.02,156.89 88.55,160.58 90.08,164.00 91.60,167.20 93.13,170.20 94.65,173.03 96.18,175.71 97.70,178.24 99.23,180.66 100.76,182.96 102.28,185.16 103.81,187.26 105.33,189.29 106.86,191.23 108.39,193.10 109.91,194.91 111.44,196.65 112.96,198.33 114.49,199.96 116.01,201.54 117.54,203.07 119.07,204.56 120.59,206.00 122.12,207.41 123.64,208.78 125.17,210.11 126.69,211.40 128.22,212.67 129.75,213.90 131.27,215.11 132.80,216.28 134.32,217.43 135.85,218.56 137.38,219.66 138.90,220.73 140.43,221.79 141.95,222.82 143.48,223.84 145.00,224.83 146.53,225.80 148.06,226.76 149.58,227.70 151.11,228.62 152.63,229.52 154.16,230.41 155.68,231.29 157.21,232.15 158.74,232.99 160.26,233.82 161.79,234.64 163.31,235.44 164.84,236.24 166.36,237.01 167.89,237.78 169.42,238.54 170.94,239.29 172.47,240.02 173.99,240.74 175.52,241.46 177.05,242.16 178.57,242.86 180.10,243.54 181.62,244.22 183.15,244.88 184.67,245.54 186.20,246.19 187.73,246.83 189.25,247.47 190.78,248.09 192.30,248.71 193.83,249.32 195.35,249.93 196.88,250.52 198.41,251.11 199.93,251.69 201.46,252.27 202.98,252.84 204.51,253.40 206.04,253.96 207.56,254.51 209.09,255.05 210.61,255.59 212.14,256.12 213.66,256.65 215.19,257.17 216.72,257.69 218.24,258.20 219.77,258.71 221.29,259.21 222.82,259.70 224.34,260.19 225.87,260.68 227.40,261.16 228.92,261.64 230.45,262.11 231.97,262.58 233.50,263.04 235.02,263.50 236.55,263.96 238.08,264.41 239.60,264.86 241.13,265.30 242.65,265.74 244.18,266.17 245.71,266.61 247.23,267.03 248.76,267.46 250.28,267.88 251.81,268.30 253.33,268.71 254.86,269.12 256.39,269.53 257.91,269.93 259.44,270.33 260.96,270.73 262.49,271.12 264.01,271.51 265.54,271.90 267.07,272.28 268.59,272.67 270.12,273.04 271.64,273.42 273.17,273.79 274.70,274.16 276.22,274.53 277.75,274.90 279.27,275.26 280.80,275.62 282.32,275.97 283.85,276.33 285.38,276.68 286.90,277.03 288.43,277.37 289.95,277.72 291.48,278.06 293.00,278.40 294.53,278.74 296.06,279.07 297.58,279.40 299.11,279.74 300.63,280.06 302.16,280.39 303.68,280.71 305.21,281.03 306.74,281.35 308.26,281.67 309.79,281.99 311.31,282.30 312.84,282.61 314.37,282.92 315.89,283.23 317.42,283.53 318.94,283.84 320.47,284.14 321.99,284.44 323.52,284.74 325.05,285.03 326.57,285.33 328.10,285.62 329.62,285.91 331.15,286.20 332.67,286.49 334.20,286.77 335.73,287.06 337.25,287.34 338.78,287.62 340.30,287.90 341.83,288.18 343.36,288.45 344.88,288.73 346.41,289.00 347.93,289.27 349.46,289.54 350.98,289.81 352.51,290.08 354.04,290.34 355.56,290.60 357.09,290.87 358.61,291.13 360.14,291.39 361.66,291.65 363.19,291.90 364.72,292.16 366.24,292.41 367.77,292.66 369.29,292.92 370.82,293.17 372.34,293.42 373.87,293.66 375.40,293.91 376.92,294.15 378.45,294.40 379.97,294.64 381.50,294.88 383.03,295.12 384.55,295.36 386.08,295.60 387.60,295.83 389.13,296.07 390.65,296.30 392.18,296.54 393.71,296.77 395.23,297.00 396.76,297.23 398.28,297.46 399.81,297.69 401.33,297.91 402.86,298.14 404.39,298.36 405.91,298.58 407.44,298.81 408.96,299.03 410.49,299.25 412.02,299.47 413.54,299.68 415.07,299.90 416.59,300.12 418.12,300.33 419.64,300.55 421.17,300.76 422.70,300.97 424.22,301.18 425.75,301.39 427.27,301.60 428.80,301.81 430.32,302.02 431.85,302.23 433.38,302.43 434.90,302.64 436.43,302.84 437.95,303.04 439.48,303.25 441.00,303.45 442.53,303.65 444.06,303.85 445.58,304.05 447.11,304.24 448.63,304.44 450.16,304.64 451.69,304.83 453.21,305.03 454.74,305.22 456.26,305.41 457.79,305.61 459.31,305.80 460.84,305.99 462.37,306.18 463.89,306.37 465.42,306.56 466.94,306.74 468.47,306.93 469.99,307.12 471.52,307.30 473.05,307.49 474.57,307.67 476.10,307.85 477.62,308.04 479.15,308.22 480.68,308.40 482.20,308.58 483.73,308.76 485.25,308.94 486.78,309.12 488.30,309.29 489.83,309.47 491.36,309.65 492.88,309.82 494.41,310.00 495.93,310.17 497.46,310.35 498.98,310.52 500.51,310.69 502.04,310.86 503.56,311.04 505.09,311.21 506.61,311.38 508.14,311.54 509.66,311.71 511.19,311.88 512.72,312.05 514.24,312.22 515.77,312.38 517.29,312.55 518.82,312.71 520.35,312.88 521.87,313.04 523.40,313.20 524.92,313.37 526.45,313.53 527.97,313.69 529.50,313.85" fill="none" stroke="#ff00ff" stroke-width="2.0" stroke-linejoin="round"/>
<text transform="translate(0,13.90) scale(0.92,1)" x="37.72 44.57 55.11 63.59" y="0" text-anchor="middle" class="tk">1.00</text>
<text transform="translate(0,60.25) scale(0.92,1)" x="37.72 44.57 55.11 63.59" y="0" text-anchor="middle" class="tk">0.95</text>
<text transform="translate(0,106.60) scale(0.92,1)" x="37.72 44.57 55.11 63.59" y="0" text-anchor="middle" class="tk">0.90</text>
<text transform="translate(0,152.95) scale(0.92,1)" x="37.72 44.57 55.11 63.59" y="0" text-anchor="middle" class="tk">0.85</text>
<text transform="translate(0,199.30) scale(0.92,1)" x="37.72 44.57 55.11 63.59" y="0" text-anchor="middle" class="tk">0.80</text>
<text transform="translate(0,245.65) scale(0.92,1)" x="37.72 44.57 55.11 63.59" y="0" text-anchor="middle" class="tk">0.75</text>
<text transform="translate(0,292.00) scale(0.92,1)" x="37.72 44.57 55.11 63.59" y="0" text-anchor="middle" class="tk">0.70</text>
<text transform="translate(0,338.35) scale(0.92,1)" x="37.72 44.57 55.11 63.59" y="0" text-anchor="middle" class="tk">0.65</text>
<text transform="translate(0,384.70) scale(0.92,1)" x="37.72 44.57 55.11 63.59" y="0" text-anchor="middle" class="tk">0.60</text>
<text transform="translate(71.00,400.1) scale(0.92,1)" text-anchor="middle" class="tk">0</text>
<text transform="translate(162.70,400.1) scale(0.92,1)" text-anchor="middle" class="tk">2</text>
<text transform="translate(254.40,400.1) scale(0.92,1)" text-anchor="middle" class="tk">4</text>
<text transform="translate(346.10,400.1) scale(0.92,1)" text-anchor="middle" class="tk">6</text>
<text transform="translate(437.80,400.1) scale(0.92,1)" text-anchor="middle" class="tk">8</text>
<text transform="translate(529.50,400.1) scale(0.92,1)" text-anchor="middle" class="tk">10</text>
<text class="ax"><tspan x="508.4" y="417.2" style="font-family:'DejaVu Sans',sans-serif;font-weight:200;font-size:18.5px;fill:#222">×</tspan><tspan x="523.5" y="417.6" style="font-size:15.6px">10</tspan><tspan x="540.6" y="410.2" style="font-size:10px">4</tspan></text>
<text class="tt"><tspan x="233.80" y="423.80" textLength="9.01" lengthAdjust="spacingAndGlyphs">S</tspan><tspan x="243.72" y="423.80" textLength="6.91" lengthAdjust="spacingAndGlyphs">t</tspan><tspan x="251.75" y="423.80" textLength="8.21" lengthAdjust="spacingAndGlyphs">o</tspan><tspan x="261.12" y="423.80" textLength="7.49" lengthAdjust="spacingAndGlyphs">r</tspan><tspan x="269.49" y="423.80" textLength="6.70" lengthAdjust="spacingAndGlyphs">a</tspan><tspan x="278.01" y="423.80" textLength="8.69" lengthAdjust="spacingAndGlyphs">g</tspan><tspan x="286.64" y="423.80" textLength="8.53" lengthAdjust="spacingAndGlyphs">e</tspan> <tspan x="306.21" y="423.80" textLength="7.02" lengthAdjust="spacingAndGlyphs">t</tspan><tspan x="314.73" y="423.80" textLength="6.99" lengthAdjust="spacingAndGlyphs">i</tspan><tspan x="322.46" y="423.80" textLength="8.11" lengthAdjust="spacingAndGlyphs">m</tspan><tspan x="331.50" y="423.80" textLength="7.81" lengthAdjust="spacingAndGlyphs">e</tspan><tspan x="342.46" y="422.20" textLength="6.12" lengthAdjust="spacingAndGlyphs">(</tspan><tspan x="348.92" y="423.80" textLength="7.96" lengthAdjust="spacingAndGlyphs">h</tspan><tspan x="357.54" y="422.20" textLength="5.47" lengthAdjust="spacingAndGlyphs">)</tspan></text>
<text transform="translate(23,192.2) rotate(-90)" text-anchor="middle" class="lg" style="font-size:16.3px" textLength="76.5" lengthAdjust="spacingAndGlyphs">Reliability</text>
<path d="M300,52 H329" stroke="#ff0000" stroke-width="1.8" stroke-dasharray="4.6 3.4"/>
<path d="M300,69.4 H334" stroke="#ff00ff" stroke-width="1.8"/>
<path d="M300,87.5 H334" stroke="#0000ff" stroke-width="1.8"/>
<path d="M300,108 H334" stroke="#00ff00" stroke-width="1.8"/>
<path d="M300,128.4 H334" stroke="#ff8000" stroke-width="1.8"/>
<text x="336.5" y="57.2" class="lg">M1</text>
<text x="336.5" y="74.7" class="lg">M3</text>
<text x="336.5" y="92.6" class="lg">the uncertanity of P<tspan dy="4" style="font-size:9.5px">r</tspan><tspan dy="-4">(0)=21.7</tspan></text>
<text x="336.5" y="113.9" class="lg">the uncertanity of P<tspan dy="4" style="font-size:9.5px">r</tspan><tspan dy="-4">(0)=13.1</tspan></text>
<text x="336.5" y="134.9" class="lg">the uncertanity of P<tspan dy="4" style="font-size:9.5px">r</tspan><tspan dy="-4">(0)=8.1</tspan></text>
</svg></body></html>
